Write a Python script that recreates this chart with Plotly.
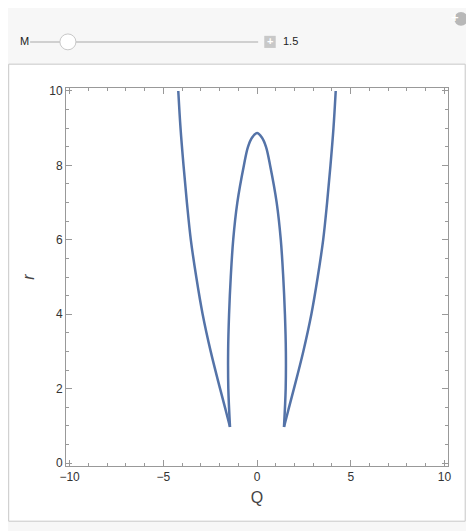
import plotly.graph_objects as go

# curve (Q, r), left half; right half is its mirror image
r_outer = [10.0, 9.0, 8.0, 7.0, 6.0, 5.0, 4.0, 3.0, 2.0, 1.42, 0.97]
q_outer = [-4.20, -4.08, -3.92, -3.74, -3.53, -3.24, -2.90, -2.47, -1.97, -1.67, -1.44]
r_inner = [0.97, 2.0, 3.0, 4.0, 5.0, 6.0, 7.0, 8.0, 8.5, 8.75, 8.87]
q_inner = [-1.44, -1.53, -1.54, -1.49, -1.40, -1.27, -1.05, -0.70, -0.48, -0.26, 0.0]

M_value = "1.5"
blue = "#5473a8"

arch_q = q_inner + [-q for q in reversed(q_inner[:-1])]
arch_r = r_inner + list(reversed(r_inner[:-1]))
right_q = [-q for q in reversed(q_outer)]
right_r = list(reversed(r_outer))

fig = go.Figure()
for qs, rs in [(q_outer, r_outer), (arch_q, arch_r), (right_q, right_r)]:
    fig.add_trace(go.Scatter(x=qs, y=rs, mode="lines",
                             line=dict(color=blue, width=2.5, shape="spline", smoothing=1.0),
                             showlegend=False, hoverinfo="skip"))

ax = dict(showgrid=False, zeroline=False, showline=True, linecolor="#999", mirror="ticks",
          ticks="inside", ticklen=6, tickcolor="#999", automargin=False,
          tickfont=dict(family="Liberation Sans", size=12, color="#333"))
fig.update_xaxes(**ax, range=[-10.19, 10.19], tickvals=[-10, -5, 0, 5, 10],
                 ticktext=["\u221210", "\u22125", "0", "5", "10"],
                 minor=dict(dtick=1, ticks="inside", ticklen=3, tickcolor="#999"),
                 title=dict(text="Q", font=dict(family="Liberation Sans", size=16, color="#444"), standoff=8))
fig.update_yaxes(**ax, range=[-0.08, 10.08], dtick=2,
                 minor=dict(dtick=0.5, ticks="inside", ticklen=3, tickcolor="#999"),
                 title=dict(text="<i>r</i>", font=dict(family="Liberation Sans", size=16, color="#444"), standoff=10))

fig.update_layout(
    width=474, height=531, margin=dict(l=58, r=34, t=80, b=73, autoexpand=False),
    paper_bgcolor="#f7f7f7", plot_bgcolor="white",
    font=dict(family="Liberation Sans"),
    shapes=[
        dict(type="rect", xref="paper", yref="paper", x0=-0.150, x1=1.045, y0=-0.146, y1=1.063,
             fillcolor="white", line=dict(color="#c8c8c8", width=1), layer="below"),
        dict(type="line", xref="paper", yref="paper", x0=-0.094, x1=0.503, y0=1.122, y1=1.122,
             line=dict(color="#d0d0d0", width=2)),
        dict(type="circle", xref="paper", yref="paper", x0=-0.016, x1=0.026, y0=1.101, y1=1.143,
             fillcolor="white", line=dict(color="#c8c8c8", width=1)),
        dict(type="rect", xref="paper", yref="paper", x0=0.519, x1=0.549, y0=1.106, y1=1.138,
             fillcolor="#c8c8c8", line=dict(width=0)),
        dict(type="circle", xref="paper", yref="paper", x0=1.016, x1=1.052, y0=1.165, y1=1.201,
             fillcolor="#b8b8b8", line=dict(width=0)),
    ],
    annotations=[
        dict(text="M", xref="paper", yref="paper", x=-0.126, y=1.122, yanchor="middle", showarrow=False,
             font=dict(size=11, color="#222"), yshift=1),
        dict(text=M_value, xref="paper", yref="paper", x=0.562, y=1.122, xanchor="left", yanchor="middle",
             showarrow=False, font=dict(size=11, color="#222"), yshift=1),
        dict(text="<b>+</b>", xref="paper", yref="paper", x=0.534, y=1.122, yanchor="middle", showarrow=False,
             font=dict(size=11, color="white"), yshift=1),
        dict(text="<b>+</b>", xref="paper", yref="paper", x=1.034, y=1.183, yanchor="middle", showarrow=False,
             font=dict(size=13, color="white"), yshift=1),
    ],
)

fig.write_html("out.html")
